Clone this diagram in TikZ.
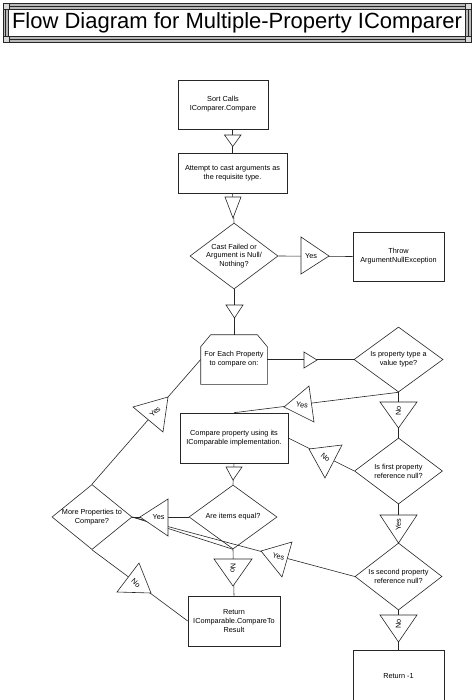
\documentclass[tikz,border=0pt]{standalone}
\usepackage{fontspec}
\setmainfont{Liberation Sans}
\usetikzlibrary{positioning,calc,shapes.geometric}
\newcommand{\fs}{\fontsize{7.3}{8.8}\selectfont}
\tikzset{
  proc/.style={draw,fill=white,align=center,inner sep=2pt,font=\fs},
  decision/.style={draw,diamond,fill=white,inner sep=0pt,minimum width=88pt,minimum height=66pt},
  dtxt/.style={align=center,font=\fs,inner sep=0pt},
  tri/.style={draw,fill=white,line join=miter},
  tag/.style={font=\fs,inner sep=0pt},
}
\begin{document}
\begin{tikzpicture}[x=1pt,y=-1pt,line width=0.6pt,draw=black!85]
  \useasboundingbox (0,0) rectangle (474,700);
  % title frame
  \fill[gray!55] (3,3) rectangle (471,42);
  \fill[white] (8.5,9) rectangle (465.5,36.5);
  \draw[line width=0.5pt] (3,3) rectangle (471,42);
  \draw[line width=0.5pt] (8.5,9) rectangle (465.5,36.5);
  \draw[line width=0.5pt] (5.5,6) rectangle (468.5,39.5);
  \foreach \cx/\cy in {3/3,465/3,3/36,465/36}
    \draw[line width=0.5pt,fill=gray!30] (\cx,\cy) rectangle ++(6,6);
  \node[font=\fontsize{22}{26}\selectfont,inner sep=0pt] (title) at (237,23) {Flow Diagram for Multiple-Property IComparer};

  % main steps
  \node[proc,minimum width=90pt,minimum height=49pt] (sort) at (223,104.5) {Sort Calls\\IComparer.Compare};
  \node[proc,minimum width=109pt,minimum height=40pt] (cast) at (232.5,173) {Attempt to cast arguments as\\the requisite type.};
  \node[decision,label={[dtxt]center:{Cast Failed or\\Argument is Null/\\Nothing?}}] (fail) at (234,256) {};
  \node[proc,minimum width=91pt,minimum height=49pt] (throw) at (398.5,256.5) {Throw\\ArgumentNullException};
  \node[minimum width=66pt,minimum height=49pt,inner sep=0pt,align=center,font=\fs] (each) at (234,359.5) {For Each Property\\to compare on:};
  \node[decision,minimum width=89pt,minimum height=65pt,label={[dtxt]center:{Is property type a\\value type?}}] (valtype) at (398.5,359.5) {};
  \node[proc,minimum width=108pt,minimum height=50pt] (cmp) at (234,438) {Compare property using its\\IComparable implementation.};
  \node[decision,label={[dtxt]center:{Is first property\\reference null?}}] (first) at (398.5,471) {};
  \node[decision,minimum height=64pt,label={[dtxt]center:{Are items equal?}}] (equal) at (233,517) {};
  \node[decision,minimum width=80pt,minimum height=65pt,label={[dtxt]center:{More Properties to\\Compare?}}] (more) at (92,517) {};
  \node[decision,minimum width=87pt,minimum height=67pt,label={[dtxt]center:{Is second property\\reference null?}}] (second) at (398.5,576.5) {};
  \node[proc,minimum width=92pt,minimum height=50pt] (ret) at (234,621) {Return\\IComparable.CompareTo\\Result};
  \node[proc,minimum width=91pt,minimum height=52pt] (neg) at (398.5,676) {Return -1};

  % connectors
  \draw (sort.south -| cast.north) -- (cast.north);
  \draw (cast.south) -- (fail.north);
  \draw (fail.east) -- (throw.west);
  \draw (fail.south) -- (each.north);
  \draw (each.south west) -- ($(each.north west)+(0,12)$) -- ($(each.north west)+(10,0)$)
     -- ($(each.north east)+(-10,0)$) -- ($(each.north east)+(0,12)$) -- (each.south east) -- cycle;
  \draw (each.east) -- (valtype.west);
  \draw (valtype.south) -- (cmp.north);
  \draw (valtype.south) -- (first.north);
  \draw (first.west) -- (cmp.east);
  \draw (first.south) -- (second.north);
  \draw (second.south) -- (neg.north);
  \draw (cmp.south) -- (equal.north);
  \draw (equal.west) -- (more.east);
  \draw (equal.south) -- (ret.north);
  \draw (second.west) -- (more.east);
  \draw (more.east) -- (equal.south);
  \draw (more.north) -- (each.west);
  \draw (more.south) -- (ret.west);

  % flow markers
  \draw[tri] (224.5,135) -- (241,135) -- (232.75,146.5) -- cycle;
  \draw[tri] (225,197) -- (241,197) -- (233,218) -- cycle;
  \draw[tri] (301,237) -- (301,274) -- (329,256) -- cycle;
  \node[tag] (yes1) at (311,256) {Yes};
  \draw[tri] (226,305) -- (243,305) -- (234.5,318) -- cycle;
  \draw[tri] (304,352) -- (304,368) -- (317,360) -- cycle;
  \draw[tri] (309,386) -- (314,422) -- (284,407) -- cycle;
  \node[tag,rotate=-10] (yes2) at (302,405) {Yes};
  \draw[tri] (380,402) -- (417,402) -- (398.5,428) -- cycle;
  \node[tag,rotate=90] (no1) at (398.5,411) {No};
  \draw[tri] (309,449) -- (342,445) -- (325,478) -- cycle;
  \node[tag,rotate=-40] (no2) at (325.5,457.5) {No};
  \draw[tri] (380,515) -- (417,515) -- (398.5,543) -- cycle;
  \node[tag,rotate=90] (yes3) at (398.5,524.5) {Yes};
  \draw[tri] (380,615) -- (417,615) -- (398.5,642) -- cycle;
  \node[tag,rotate=90] (no3) at (398.5,624) {No};
  \draw[tri] (261,551) -- (292,542) -- (282,577) -- cycle;
  \node[tag,rotate=-15] (yes4) at (278.5,557) {Yes};
  \draw[tri] (168,499) -- (168,536) -- (140,517) -- cycle;
  \node[tag] (yes5) at (158.5,517) {Yes};
  \draw[tri] (117,592) -- (139,563) -- (151,593) -- cycle;
  \node[tag,rotate=-45] (no4) at (136,583) {No};
  \draw[tri] (214,559) -- (252,559) -- (233,586) -- cycle;
  \node[tag,rotate=-90] (no5) at (233,568) {No};
  \draw[tri] (226,467) -- (242,467) -- (233,480) -- cycle;
  \draw[tri] (133,407) -- (168,397) -- (163,432) -- cycle;
  \node[tag,rotate=45] (yes6) at (155,412) {Yes};
\end{tikzpicture}
\end{document}
